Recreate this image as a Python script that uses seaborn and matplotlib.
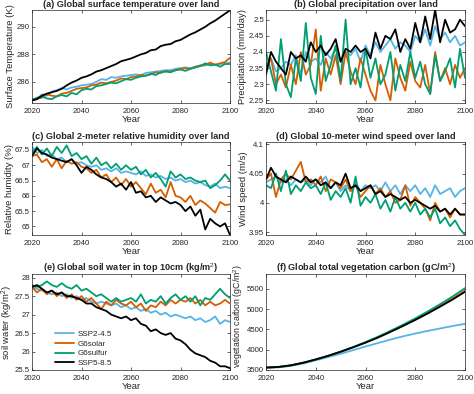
import matplotlib
matplotlib.use("Agg")
import matplotlib.pyplot as plt
import matplotlib.ticker as mticker
import seaborn as sns
import pandas as pd

# ---- data (2-year steps) ----
years = list(range(2020, 2101, 2))
years_veg = list(range(2020, 2101, 5))
scenarios = ["SSP2-4.5", "G6solar", "G6sulfur", "SSP5-8.5"]
colors = {"SSP2-4.5": "#56B4E9", "G6solar": "#D55E00",
          "G6sulfur": "#009E73", "SSP5-8.5": "#000000"}

tas_ssp245 = [284.7, 284.75, 285.1, 285.0, 285.3, 285.4, 285.55, 285.45, 285.6, 285.65, 285.75,
              285.8, 285.85, 286.0, 286.2, 286.15, 286.35, 286.3, 286.4, 286.45, 286.5, 286.55,
              286.5, 286.65, 286.7, 286.75, 286.8, 286.85, 286.85, 286.95, 287.0, 287.05, 287.0,
              287.1, 287.15, 287.2, 287.3, 287.25, 287.3, 287.35, 287.4]
tas_solar = [284.7, 284.8, 284.85, 285.1, 285.0, 284.95, 285.15, 285.2, 285.35, 285.5, 285.55,
             285.6, 285.75, 285.8, 285.95, 285.9, 286.0, 286.1, 286.25, 286.2, 286.35, 286.4,
             286.5, 286.45, 286.55, 286.7, 286.65, 286.8, 286.75, 286.85, 286.95, 287.0, 286.95,
             287.1, 287.2, 287.25, 287.4, 287.25, 287.35, 287.45, 287.75]
tas_sulfur = [284.7, 284.85, 284.95, 284.8, 284.75, 284.95, 285.05, 284.95, 285.2, 285.1, 285.4,
              285.5, 285.45, 285.7, 285.75, 285.85, 285.95, 285.9, 286.05, 286.2, 286.15, 286.3,
              286.4, 286.45, 286.6, 286.5, 286.7, 286.75, 286.7, 286.85, 286.9, 286.8, 286.95,
              287.05, 287.15, 287.35, 287.2, 287.25, 287.1, 287.3, 287.3]
tas_ssp585 = [284.65, 284.75, 285.0, 285.15, 285.25, 285.35, 285.5, 285.75, 285.95, 286.1, 286.3,
              286.4, 286.55, 286.75, 286.85, 287.0, 287.15, 287.3, 287.5, 287.6, 287.7, 287.85,
              288.0, 288.1, 288.3, 288.35, 288.6, 288.7, 288.75, 288.95, 289.05, 289.25, 289.45,
              289.6, 289.8, 290.0, 290.25, 290.45, 290.7, 290.95, 291.2]

pr_ssp245 = [2.36, 2.38, 2.34, 2.35, 2.37, 2.36, 2.39, 2.33, 2.40, 2.37, 2.38, 2.36, 2.40, 2.38,
             2.41, 2.37, 2.40, 2.39, 2.41, 2.37, 2.42, 2.39, 2.43, 2.40, 2.42, 2.44, 2.41, 2.43,
             2.42, 2.40, 2.45, 2.43, 2.47, 2.42, 2.48, 2.44, 2.46, 2.43, 2.45, 2.42, 2.43]
pr_solar = [2.35, 2.38, 2.30, 2.33, 2.29, 2.36, 2.30, 2.40, 2.33, 2.36, 2.47, 2.28, 2.38, 2.33,
            2.39, 2.30, 2.40, 2.34, 2.30, 2.38, 2.33, 2.28, 2.25, 2.36, 2.30, 2.25, 2.38, 2.32,
            2.28, 2.37, 2.31, 2.29, 2.36, 2.27, 2.40, 2.31, 2.35, 2.30, 2.36, 2.32, 2.35]
pr_sulfur = [2.40, 2.34, 2.28, 2.44, 2.30, 2.26, 2.38, 2.31, 2.49, 2.32, 2.27, 2.45, 2.31, 2.36,
             2.42, 2.31, 2.50, 2.30, 2.35, 2.29, 2.41, 2.32, 2.38, 2.30, 2.33, 2.40, 2.28, 2.36,
             2.31, 2.40, 2.32, 2.37, 2.30, 2.27, 2.39, 2.31, 2.34, 2.38, 2.29, 2.41, 2.32]
pr_ssp585 = [2.33, 2.40, 2.37, 2.35, 2.33, 2.40, 2.38, 2.39, 2.37, 2.43, 2.40, 2.42, 2.39, 2.41,
             2.44, 2.37, 2.41, 2.40, 2.42, 2.40, 2.41, 2.38, 2.46, 2.41, 2.45, 2.44, 2.47, 2.40,
             2.44, 2.41, 2.49, 2.43, 2.51, 2.44, 2.53, 2.43, 2.50, 2.46, 2.47, 2.50, 2.48]

rh_ssp245 = [67.6, 67.4, 67.5, 67.3, 67.35, 67.2, 67.25, 67.1, 67.2, 67.05, 67.1, 67.0, 66.95,
             67.0, 66.85, 66.9, 66.8, 66.9, 66.75, 66.8, 66.75, 66.7, 66.8, 66.65, 66.7, 66.6,
             66.65, 66.55, 66.6, 66.5, 66.55, 66.45, 66.5, 66.4, 66.45, 66.35, 66.3, 66.4, 66.25,
             66.3, 66.25]
rh_solar = [67.3, 67.35, 67.1, 67.2, 66.95, 67.2, 66.9, 67.15, 67.05, 67.1, 66.95, 66.9, 66.75,
            66.85, 66.6, 66.7, 66.45, 66.6, 66.35, 66.55, 66.3, 66.45, 66.25, 66.05, 66.4, 66.1,
            66.2, 65.95, 66.45, 66.0, 65.95, 65.8, 66.0, 65.7, 65.85, 65.75, 65.6, 65.45, 65.8,
            65.7, 65.72]
rh_sulfur = [67.4, 67.6, 67.35, 67.55, 67.3, 67.6, 67.4, 67.65, 67.3, 67.4, 67.2, 67.3, 67.05,
             67.25, 67.0, 67.1, 66.9, 67.05, 66.85, 67.0, 66.85, 66.95, 66.7, 66.85, 66.6, 66.75,
             66.55, 66.3, 66.8, 66.6, 66.7, 66.55, 66.6, 66.5, 66.45, 66.5, 66.25, 66.35, 66.5,
             66.7, 66.5]
rh_ssp585 = [67.3, 67.55, 67.4, 67.35, 67.25, 67.2, 67.15, 67.1, 67.2, 67.0, 66.75, 66.95, 66.85,
             66.7, 66.6, 66.55, 66.45, 66.3, 66.4, 66.2, 66.45, 66.1, 66.15, 65.95, 66.0, 65.8,
             65.95, 65.85, 65.75, 65.8, 65.7, 65.5, 65.65, 65.35, 65.55, 64.9, 65.25, 65.1, 65.0,
             65.1, 64.72]

ws_ssp245 = [4.035, 4.04, 4.045, 4.035, 4.04, 4.03, 4.04, 4.035, 4.04, 4.03, 4.04, 4.035, 4.045,
             4.025, 4.035, 4.02, 4.03, 4.02, 4.035, 4.02, 4.03, 4.025, 4.03, 4.02, 4.035, 4.02,
             4.03, 4.015, 4.03, 4.02, 4.03, 4.015, 4.025, 4.01, 4.03, 4.015, 4.02, 4.025, 4.01,
             4.02, 4.025]
ws_solar = [4.04, 4.05, 4.01, 4.04, 4.05, 4.04, 4.055, 4.07, 4.035, 4.04, 4.03, 4.045, 4.02,
            4.04, 4.035, 4.025, 4.04, 4.02, 4.03, 4.01, 4.02, 4.03, 4.015, 4.025, 4.01, 4.02, 4.0,
            4.005, 4.03, 3.995, 4.01, 4.0, 3.99, 3.97, 4.0, 3.985, 3.99, 3.975, 3.99, 3.98, 3.98]
ws_sulfur = [4.03, 4.025, 4.05, 4.02, 4.055, 4.015, 4.03, 4.02, 4.035, 4.025, 4.03, 4.015, 4.035,
             4.005, 4.02, 4.01, 4.025, 4.0, 4.045, 3.995, 4.01, 4.0, 4.015, 3.99, 4.005, 3.985,
             4.01, 3.99, 4.0, 3.985, 4.0, 3.98, 3.99, 3.975, 3.99, 3.965, 3.975, 3.96, 3.97,
             3.955, 3.945]
ws_ssp585 = [4.04, 4.06, 4.045, 4.04, 4.035, 4.045, 4.04, 4.035, 4.045, 4.035, 4.04, 4.03, 4.035,
             4.025, 4.035, 4.03, 4.05, 4.025, 4.03, 4.02, 4.025, 4.03, 4.015, 4.02, 4.01, 4.015,
             4.01, 4.005, 4.01, 4.0, 4.005, 4.0, 3.995, 3.99, 3.995, 3.985, 3.99, 3.98, 3.99,
             3.98, 3.98]

sw_ssp245 = [27.75, 27.7, 27.65, 27.6, 27.55, 27.6, 27.5, 27.55, 27.45, 27.5, 27.4, 27.45, 27.35,
             27.3, 27.35, 27.3, 27.25, 27.3, 27.2, 27.25, 27.15, 27.2, 27.1, 27.15, 27.05, 27.1,
             27.0, 27.05, 26.95, 27.0, 26.95, 26.9, 26.95, 26.85, 26.9, 26.8, 26.85, 26.95, 26.75,
             26.85, 26.8]
sw_solar = [27.75, 27.6, 27.7, 27.55, 27.65, 27.5, 27.6, 27.45, 27.55, 27.4, 27.5, 27.35, 27.45,
            27.3, 27.15, 27.35, 27.25, 27.4, 27.3, 27.25, 27.35, 27.2, 27.3, 27.1, 27.25, 27.2,
            27.35, 27.25, 27.4, 27.3, 27.4, 27.35, 27.45, 27.3, 27.4, 27.25, 27.35, 27.25, 27.3,
            27.4, 27.3]
sw_sulfur = [27.8, 27.75, 27.8, 27.9, 27.8, 27.75, 27.85, 27.75, 27.7, 27.8, 27.65, 27.7, 27.6,
             27.5, 27.55, 27.45, 27.35, 27.45, 27.35, 27.4, 27.45, 27.35, 27.55, 27.3, 27.4, 27.35,
             27.5, 27.3, 27.45, 27.55, 27.4, 27.5, 27.35, 27.5, 27.25, 27.45, 27.4, 27.55, 27.7,
             27.55, 27.45]
sw_ssp585 = [27.75, 27.8, 27.7, 27.6, 27.65, 27.55, 27.6, 27.5, 27.5, 27.45, 27.4, 27.3, 27.3,
             27.2, 27.15, 27.1, 27.0, 26.95, 26.9, 26.95, 26.85, 26.9, 26.75, 26.7, 26.55, 26.6,
             26.5, 26.45, 26.5, 26.35, 26.3, 26.2, 26.05, 25.95, 25.9, 25.85, 25.75, 25.7, 25.6,
             25.6, 25.55]

vc_ssp245 = [3550, 3565, 3600, 3660, 3740, 3820, 3900, 3990, 4080, 4165, 4250, 4330, 4400, 4465,
             4525, 4585, 4640]
vc_solar = [3560, 3575, 3615, 3680, 3760, 3850, 3950, 4060, 4180, 4310, 4450, 4595, 4750, 4915,
            5085, 5265, 5460]
vc_sulfur = [3560, 3575, 3615, 3680, 3760, 3850, 3955, 4065, 4190, 4320, 4465, 4615, 4775, 4945,
             5125, 5315, 5520]
vc_ssp585 = [3560, 3575, 3615, 3680, 3760, 3850, 3950, 4060, 4175, 4300, 4440, 4585, 4735, 4895,
             5065, 5240, 5430]

panels = [
    ("(a) Global surface temperature over land", "Surface Temperature (K)", years,
     [tas_ssp245, tas_solar, tas_sulfur, tas_ssp585], (284.47, 291.22), [286, 288, 290]),
    ("(b) Global precipitation over land", "Precipitation (mm/day)", years,
     [pr_ssp245, pr_solar, pr_sulfur, pr_ssp585], (2.242, 2.53), [2.25, 2.3, 2.35, 2.4, 2.45, 2.5]),
    ("(c) Global 2-meter relative humidity over land", "Relative humidity (%)", years,
     [rh_ssp245, rh_solar, rh_sulfur, rh_ssp585], (64.72, 67.76), [65, 65.5, 66, 66.5, 67, 67.5]),
    ("(d) Global 10-meter wind speed over land", "Wind speed (m/s)", years,
     [ws_ssp245, ws_solar, ws_sulfur, ws_ssp585], (3.945, 4.104), [3.95, 4.0, 4.05, 4.1]),
    ("(e) Global soil water in top 10cm (kg/m$^2$)", "soil water (kg/m$^2$)", years,
     [sw_ssp245, sw_solar, sw_sulfur, sw_ssp585], (25.5, 28.1), [25.5, 26, 26.5, 27, 27.5, 28]),
    ("(f) Global total vegetation carbon (gC/m$^2$)", "vegetation carbon (gC/m$^2$)", years_veg,
     [vc_ssp245, vc_solar, vc_sulfur, vc_ssp585], (3500, 5870), [3500, 4000, 4500, 5000, 5500]),
]

sns.set_style("ticks")
plt.rcParams["font.family"] = ["Liberation Sans", "DejaVu Sans"]
plt.rcParams["mathtext.fontset"] = "custom"
plt.rcParams["mathtext.rm"] = "Liberation Sans"
plt.rcParams["mathtext.it"] = "Liberation Sans:italic"
plt.rcParams["mathtext.bf"] = "Liberation Sans:bold"

fig = plt.figure(figsize=(4.74, 3.94), dpi=100)

col_left = [32 / 474, 266 / 474]
col_width = [198 / 474, 199 / 474]
row_bottom = [1 - 103 / 394, 1 - 235 / 394, 1 - 370 / 394]
row_height = [93 / 394, 93 / 394, 96 / 394]

edge = "#262626"
for i, (title, ylabel, xs, series, ylim, yticks) in enumerate(panels):
    r, c = divmod(i, 2)
    ax = fig.add_axes([col_left[c], row_bottom[r], col_width[c], row_height[r]])

    df = pd.concat([pd.DataFrame({"Year": xs, "value": vals, "scenario": name})
                    for name, vals in zip(scenarios, series)], ignore_index=True)
    sns.lineplot(data=df, x="Year", y="value", hue="scenario", hue_order=scenarios,
                 palette=colors, linewidth=1.3, ax=ax, legend=(i == 4))

    ax.set_xlim(2020, 2100)
    ax.set_ylim(*ylim)
    ax.set_xticks([2020, 2040, 2060, 2080, 2100])
    ax.set_yticks(yticks)
    ax.yaxis.set_major_formatter(mticker.FormatStrFormatter("%g"))
    ax.tick_params(direction="in", length=2.5, width=0.5, labelsize=5.6, pad=1.5,
                   top=True, right=True, colors=edge, labelcolor="#262626")
    ax.tick_params(axis="x", pad=3.5)
    for sp in ax.spines.values():
        sp.set_visible(True)
        sp.set_linewidth(0.5)
        sp.set_color(edge)
    ax.set_title(title, fontsize=6.6, fontweight="bold", pad=2)
    ax.set_xlabel("Year", fontsize=6.8, labelpad=0)
    ax.set_ylabel(ylabel, fontsize=6.3 if i == 5 else 6.8, labelpad=0 if i == 4 else 1)
    if i == 5:
        ax.yaxis.label.set_y(0.56)

    if i == 4:
        leg = ax.legend(loc="lower left", bbox_to_anchor=(0.09, -0.02), frameon=False,
                        fontsize=5.8, handlelength=2.4, handletextpad=0.4,
                        labelspacing=0.25, borderaxespad=0.2)
        for line in leg.get_lines():
            line.set_linewidth(1.3)

fig.savefig("out.png", dpi=100)
